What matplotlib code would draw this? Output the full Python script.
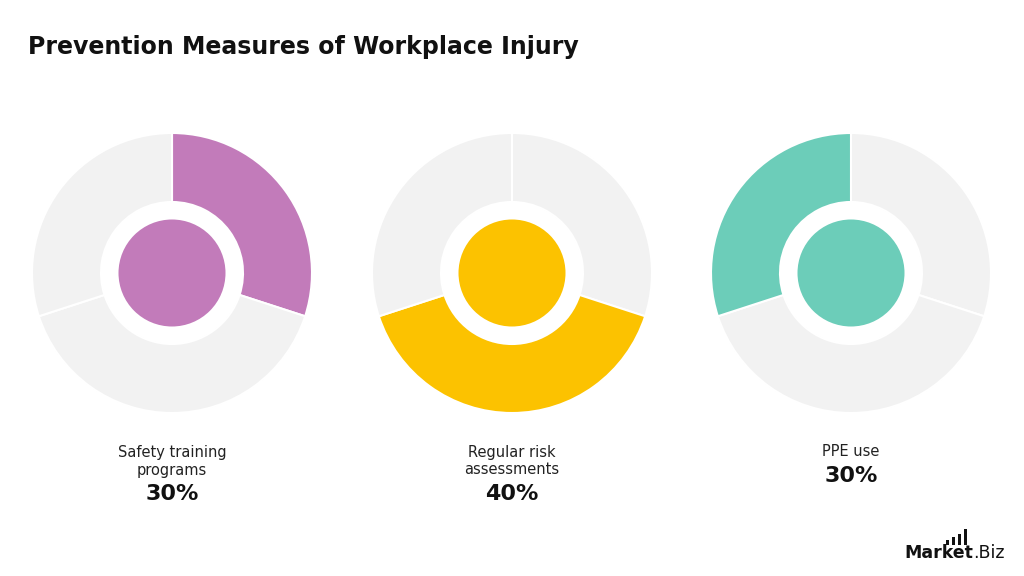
import matplotlib
matplotlib.use("Agg")
import matplotlib.pyplot as plt
from matplotlib.patches import Circle, Rectangle

title = "Prevention Measures of Workplace Injury"
categories = ["Safety training\nprograms", "Regular risk\nassessments", "PPE use"]
values = [30, 40, 30]
colors = ["#C27BBA", "#FCC200", "#6CCDB9"]
grey = "#F2F2F2"

W, H = 1024, 576
fig = plt.figure(figsize=(W / 100, H / 100), dpi=100)
ax = fig.add_axes([0, 0, 1, 1])
ax.set_xlim(0, W)
ax.set_ylim(0, H)
ax.set_aspect("equal")
ax.axis("off")

centers_x = [172, 512, 851]
cy = H - 273
R_out, R_in, R_dot = 140, 71, 53.5

for i, (cx, lab, col) in enumerate(zip(centers_x, categories, colors)):
    seg_cols = [col if j == i else grey for j in range(len(values))]
    ax.pie(values, colors=seg_cols, startangle=90, counterclock=False,
           center=(cx, cy), radius=R_out,
           wedgeprops=dict(width=R_out - R_in, edgecolor="white", linewidth=1.5))
    ax.add_patch(Circle((cx, cy), R_dot, facecolor=col, edgecolor="none", zorder=3))
    lines = lab.split("\n")
    for k, line in enumerate(lines):
        ax.text(cx, H - (452 + 18 * k), line, ha="center", va="center",
                fontsize=10.5, color="#222222")
    py = 452 + 18 * (len(lines) - 1) + 24
    ax.text(cx, H - py, f"{values[i]}%", ha="center", va="center",
            fontsize=16, fontweight="bold", color="#111111")

ax.set_xlim(0, W)
ax.set_ylim(0, H)
ax.set_aspect("equal")

fig.text(28 / W, 1 - 47 / H, title, ha="left", va="center", fontsize=17,
         fontweight="bold", color="#111111")

# logo
t1 = fig.text(904 / W, 1 - 553 / H, "Market", ha="left", va="center", fontsize=12.5,
              fontweight="bold", color="#111111")
fig.canvas.draw()
bb = t1.get_window_extent()
fig.text((bb.x1 + 0.5) / W, 1 - 553 / H, ".Biz", ha="left", va="center",
         fontsize=12.5, color="#111111")
for k, hgt in enumerate([5, 8, 11, 16]):
    ax.add_patch(Rectangle((bb.x1 - 27 + k * 6, H - 545), 3.2, hgt,
                           facecolor="#111111", edgecolor="none"))

fig.savefig("out.png", dpi=100, facecolor="white")
